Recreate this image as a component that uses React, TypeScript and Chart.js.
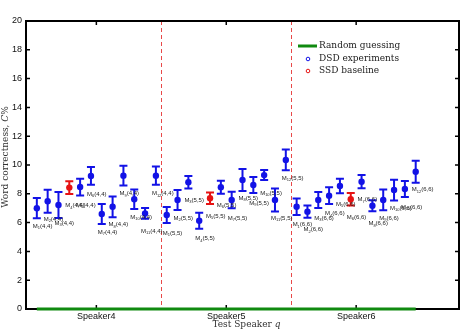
import React, { useEffect, useRef } from 'react';
import { Chart, registerables } from 'chart.js';

Chart.register(...registerables);

// ---- Data ----
const speakers = ['Speaker4', 'Speaker5', 'Speaker6'];
const speakerIds = [4, 5, 6];
const modelsPerSpeaker = 12;
const spk4Mean = [7.0, 7.48, 7.22, 8.43, 8.47, 9.24, 6.6, 7.1, 9.26, 7.62, 6.64, 9.26];
const spk4Err = [0.7, 0.8, 0.9, 0.45, 0.58, 0.62, 0.7, 0.72, 0.68, 0.68, 0.37, 0.63];
const spk5Mean = [6.53, 7.57, 8.8, 6.13, 7.69, 8.45, 7.57, 8.96, 8.61, 9.3, 7.57, 10.35];
const spk5Err = [0.55, 0.69, 0.43, 0.55, 0.4, 0.45, 0.58, 0.76, 0.55, 0.35, 0.8, 0.72];
const spk6Mean = [7.1, 6.76, 7.57, 7.87, 8.54, 7.62, 8.84, 7.17, 7.57, 8.26, 8.33, 9.53];
const spk6Err = [0.58, 0.42, 0.56, 0.58, 0.5, 0.43, 0.46, 0.38, 0.72, 0.72, 0.56, 0.77];
const randomGuess = 0;
const yTicks = [0, 2, 4, 6, 8, 10, 12, 14, 16, 18, 20];

const means = [spk4Mean, spk5Mean, spk6Mean];
const errs = [spk4Err, spk5Err, spk6Err];

type Pt = { x: number; y: number; err: number; m: number; spk: number };
const dsdPoints: Pt[] = [];
const ssdPoints: Pt[] = [];
speakers.forEach((_, g) => {
  for (let m = 0; m < modelsPerSpeaker; m++) {
    const p = { x: g * modelsPerSpeaker + m + 1, y: means[g][m], err: errs[g][m], m: m + 1, spk: speakerIds[g] };
    if (m + 1 === speakerIds[g]) ssdPoints.push(p);
    else dsdPoints.push(p);
  }
});
const xTickVals = speakers.map((_, g) => g * modelsPerSpeaker + (modelsPerSpeaker + 1) / 2);
const dividers = [1, 2].map((g) => g * modelsPerSpeaker + 0.5);
const nPoints = speakers.length * modelsPerSpeaker;

const BLUE = '#1212e6';
const RED = '#e61212';
const GREEN = '#108a10';
const SANS = '"Liberation Sans", Arial, sans-serif';
const SERIF = '"DejaVu Serif", serif';

const decorPlugin = {
  id: 'decor',
  beforeDatasetsDraw(chart: any) {
    const { ctx, chartArea: ca } = chart;
    const xs = chart.scales.x;
    const ys = chart.scales.y;
    ctx.save();
    // dividers
    ctx.strokeStyle = '#e84848';
    ctx.lineWidth = 1;
    ctx.setLineDash([4, 3]);
    dividers.forEach((d) => {
      const px = Math.round(xs.getPixelForValue(d)) + 0.5;
      ctx.beginPath();
      ctx.moveTo(px, ca.top);
      ctx.lineTo(px, ca.bottom);
      ctx.stroke();
    });
    ctx.setLineDash([]);
    // frame
    ctx.strokeStyle = '#000';
    ctx.lineWidth = 2;
    ctx.strokeRect(ca.left, ca.top, ca.right - ca.left, ca.bottom - ca.top);
    // ticks
    ctx.lineWidth = 1.5;
    yTicks.forEach((v) => {
      const py = ys.getPixelForValue(v);
      ctx.beginPath();
      ctx.moveTo(ca.left, py);
      ctx.lineTo(ca.left + 4, py);
      ctx.moveTo(ca.right, py);
      ctx.lineTo(ca.right - 4, py);
      ctx.stroke();
    });
    xTickVals.forEach((v) => {
      const px = xs.getPixelForValue(v);
      ctx.beginPath();
      ctx.moveTo(px, ca.bottom);
      ctx.lineTo(px, ca.bottom - 4);
      ctx.moveTo(px, ca.top);
      ctx.lineTo(px, ca.top + 4);
      ctx.stroke();
    });
    // error bars
    const drawErr = (pts: Pt[], color: string) => {
      ctx.strokeStyle = color;
      ctx.lineWidth = 2;
      pts.forEach((p) => {
        const px = xs.getPixelForValue(p.x);
        const top = ys.getPixelForValue(p.y + p.err);
        const bot = ys.getPixelForValue(p.y - p.err);
        ctx.beginPath();
        ctx.moveTo(px, top);
        ctx.lineTo(px, bot);
        ctx.moveTo(px - 4, top);
        ctx.lineTo(px + 4, top);
        ctx.moveTo(px - 4, bot);
        ctx.lineTo(px + 4, bot);
        ctx.stroke();
      });
    };
    drawErr(dsdPoints, BLUE);
    drawErr(ssdPoints, RED);
    ctx.restore();
  },
  afterDatasetsDraw(chart: any) {
    const { ctx, chartArea: ca } = chart;
    const xs = chart.scales.x;
    const ys = chart.scales.y;
    ctx.save();
    // point labels
    ctx.fillStyle = '#222';
    ctx.textBaseline = 'middle';
    ctx.textAlign = 'left';
    [...dsdPoints, ...ssdPoints].forEach((p) => {
      let x = xs.getPixelForValue(p.x) - 4;
      const y = ys.getPixelForValue(p.y) + 18;
      ctx.font = `6px ${SANS}`;
      ctx.fillText('M', x, y);
      x += ctx.measureText('M').width;
      ctx.font = `4px ${SANS}`;
      ctx.fillText(String(p.m), x, y + 2);
      x += ctx.measureText(String(p.m)).width;
      ctx.font = `6px ${SANS}`;
      ctx.fillText(`(${p.spk},${p.spk})`, x, y);
    });
    // legend
    ctx.font = `9px ${SERIF}`;
    ctx.fillStyle = '#222';
    ctx.strokeStyle = GREEN;
    ctx.lineWidth = 3;
    ctx.beginPath();
    ctx.moveTo(298, 46);
    ctx.lineTo(317, 46);
    ctx.stroke();
    ctx.fillText('Random guessing', 319, 46);
    ctx.lineWidth = 1;
    ctx.strokeStyle = BLUE;
    ctx.beginPath();
    ctx.arc(308, 59, 1.8, 0, Math.PI * 2);
    ctx.stroke();
    ctx.fillText('DSD experiments', 319, 59);
    ctx.strokeStyle = RED;
    ctx.beginPath();
    ctx.arc(308, 71, 1.8, 0, Math.PI * 2);
    ctx.stroke();
    ctx.fillText('SSD baseline', 319, 71);
    // axis titles
    const drawParts = (parts: [string, boolean][], cx: number, cy: number, rot: number) => {
      ctx.save();
      ctx.translate(cx, cy);
      ctx.rotate(rot);
      let total = 0;
      parts.forEach(([t, it]) => {
        ctx.font = `${it ? 'italic ' : ''}9px ${SERIF}`;
        total += ctx.measureText(t).width;
      });
      let x = -total / 2;
      parts.forEach(([t, it]) => {
        ctx.font = `${it ? 'italic ' : ''}9px ${SERIF}`;
        ctx.fillText(t, x, 0);
        x += ctx.measureText(t).width;
      });
      ctx.restore();
    };
    ctx.fillStyle = '#333';
    drawParts([['Word correctness, ', false], ['C', true], ['%', false]], 6, 157, -Math.PI / 2);
    drawParts([['Test Speaker ', false], ['q', true]], (ca.left + ca.right) / 2 + 4, 325, 0);
    ctx.restore();
  },
};

export default function App() {
  const ref = useRef<HTMLCanvasElement>(null);
  useEffect(() => {
    if (!ref.current) return;
    const chart = new Chart(ref.current, {
      type: 'scatter',
      data: {
        datasets: [
          {
            type: 'line',
            label: 'Random guessing',
            data: [
              { x: 1, y: randomGuess },
              { x: nPoints, y: randomGuess },
            ],
            borderColor: GREEN,
            borderWidth: 3,
            pointRadius: 0,
            clip: false,
          } as any,
          {
            label: 'DSD experiments',
            data: dsdPoints.map((p) => ({ x: p.x, y: p.y })),
            backgroundColor: BLUE,
            borderColor: BLUE,
            pointRadius: 3.2,
            borderWidth: 0,
          },
          {
            label: 'SSD baseline',
            data: ssdPoints.map((p) => ({ x: p.x, y: p.y })),
            backgroundColor: RED,
            borderColor: RED,
            pointRadius: 3.2,
            borderWidth: 0,
          },
        ],
      },
      options: {
        animation: false,
        responsive: false,
        devicePixelRatio: 1,
        layout: { padding: { left: 0, right: 15, top: 21, bottom: 0 } },
        plugins: { legend: { display: false }, tooltip: { enabled: false } },
        scales: {
          x: {
            type: 'linear',
            min: 0,
            max: 40,
            grid: { display: false, drawTicks: false },
            border: { display: false },
            afterBuildTicks: (scale: any) => {
              scale.ticks = xTickVals.map((v) => ({ value: v }));
            },
            afterFit: (scale: any) => {
              scale.height = 23;
            },
            ticks: {
              autoSkip: false,
              maxRotation: 0,
              padding: 2,
              color: '#111',
              font: { family: SANS, size: 9 },
              callback: (v: any) => {
                const i = xTickVals.indexOf(Number(v));
                return i >= 0 ? speakers[i] : '';
              },
            },
          },
          y: {
            min: 0,
            max: 20,
            grid: { display: false, drawTicks: false },
            border: { display: false },
            afterFit: (scale: any) => {
              scale.width = 26;
            },
            ticks: {
              stepSize: 2,
              padding: 4,
              color: '#111',
              font: { family: SANS, size: 9 },
            },
          },
        },
      },
      plugins: [decorPlugin],
    });
    return () => chart.destroy();
  }, []);
  return (
    <div style={{ position: 'fixed', left: 0, top: 0, width: 474, height: 332, background: '#fff' }}>
      <canvas ref={ref} width={474} height={332} />
    </div>
  );
}
